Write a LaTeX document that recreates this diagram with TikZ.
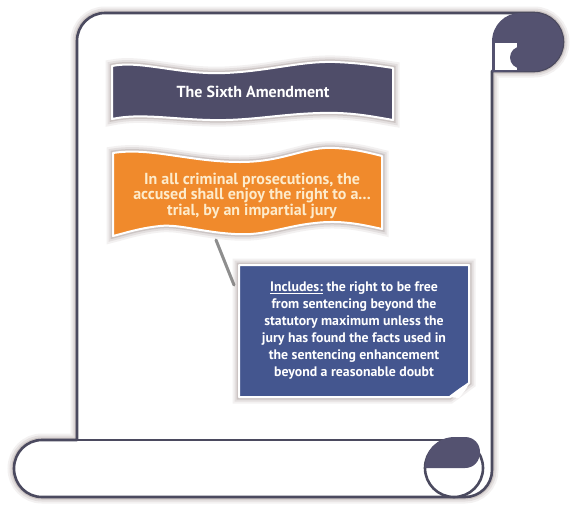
\documentclass[tikz,border=0pt]{standalone}
\usepackage{fontspec}
\setmainfont{PT Sans}
\definecolor{outl}{HTML}{4B4A5F}
\definecolor{curlc}{HTML}{545270}
\definecolor{bann}{HTML}{4F4D69}
\definecolor{orng}{HTML}{F08A2C}
\definecolor{cream}{HTML}{FDEBCB}
\definecolor{callb}{HTML}{44568F}
\definecolor{shad}{HTML}{7D6A66}
\definecolor{ptrc}{HTML}{8E8E8E}
\tikzset{
  halo/.style={line join=round,
    preaction={draw=shad,line width=13pt,opacity=0.09},
    preaction={draw=shad,line width=9pt,opacity=0.13},
    preaction={draw=shad,line width=5pt,opacity=0.22}},
  scrollline/.style={draw=outl,line width=2.6pt,line join=round},
  wband/.style={halo,draw=white,line width=2pt},
  titletext/.style={text=white,font=\fontsize{16}{18}\selectfont\bfseries,align=center,inner sep=0pt},
  ortext/.style={text=cream,font=\fontsize{16}{12.5}\selectfont\bfseries,align=center,inner sep=0pt},
  calltext/.style={text=white,font=\fontsize{13.8}{17}\selectfont\bfseries,align=center,inner sep=0pt},
  ptrline/.style={draw=ptrc,line width=3pt,line cap=round}
}
\begin{document}
\begin{tikzpicture}[x=1pt,y=-1pt]
\useasboundingbox (0,0) rectangle (575,512);
\fill[white] (0,0) rectangle (575,512);
% scroll silhouette
\path[halo,fill=white,scrollline]
  (77,41) .. controls (77,25.5) and (89.5,13) .. (105,13) -- (534,13)
  .. controls (550,13) and (563,26) .. (563,42)
  .. controls (563,58) and (550,71) .. (534,71) -- (492,71) -- (492,470)
  .. controls (492,485) and (480,497) .. (465,497) -- (42,497)
  .. controls (26.5,497) and (14,484.5) .. (14,468.5)
  .. controls (14,452.5) and (26.5,440) .. (42,440) -- (77,440) -- cycle;
% top curl
\fill[curlc] (492,72) -- (492,42) .. controls (492,25) and (505,13) .. (520,13) -- (534,13)
  .. controls (550,13) and (563,26) .. (563,42)
  .. controls (563,58) and (550,71) .. (534,71) -- cycle;
\fill[white] (494.5,43) rectangle (517,70);
\fill[curlc] (521,57.5) circle[radius=11];
% bottom roll top edge and curl
\draw[scrollline] (77,440) -- (450,440);
\draw[scrollline,fill=white] (454,468) circle[radius=29];
\fill[curlc] (425,468) .. controls (425,449) and (438,437) .. (455,437) -- (465,437)
  .. controls (474,437) and (480,444) .. (480,452)
  .. controls (480,461) and (474,468) .. (465,468) -- cycle;
% title banner
\path[wband,fill=bann]
  (112,66) .. controls (140,60) and (180,75) .. (225,73)
  .. controls (270,71) and (300,61) .. (335,62)
  .. controls (360,63) and (380,66) .. (393,68) -- (393,120)
  .. controls (370,116) and (350,112) .. (320,113)
  .. controls (280,114) and (250,121) .. (210,120)
  .. controls (170,119) and (140,113) .. (112,119) -- cycle;
\node[titletext] (title) at (253,92) {The Sixth Amendment};
% orange banner
\path[wband,fill=orng]
  (113,153) .. controls (150,147) and (190,162) .. (240,162)
  .. controls (285,162) and (305,146) .. (335,148)
  .. controls (355,149) and (370,153) .. (382,156) -- (382,229)
  .. controls (360,224) and (340,220) .. (315,223)
  .. controls (285,226) and (265,236) .. (235,234)
  .. controls (200,232) and (180,224) .. (160,226)
  .. controls (140,228) and (125,233) .. (113,236) -- cycle;
\node[ortext] (quote) at (252,196) {In all criminal prosecutions, the\\accused shall enjoy the right to a...\\trial, by an impartial jury};
% pointer
\coordinate (pA) at (216,240);
\coordinate (pB) at (234,285);
\draw[ptrline] (pA) -- (pB);
% callout box
\path[wband,fill=callb]
  (239,265) -- (469,265) -- (469,383)
  .. controls (462,388) and (456,393) .. (450,397) -- (239,397) -- cycle;
\fill[white] (448,397) .. controls (456,391) and (462,386) .. (469,383)
  .. controls (467,389) and (463,393) .. (459,398) -- cycle;
\node[calltext] (incl) at (354,330.5) {\underline{Includes:} the right to be free\\from sentencing beyond the\\statutory maximum unless the\\jury has found the facts used in\\the sentencing enhancement\\beyond a reasonable doubt};
\end{tikzpicture}
\end{document}
